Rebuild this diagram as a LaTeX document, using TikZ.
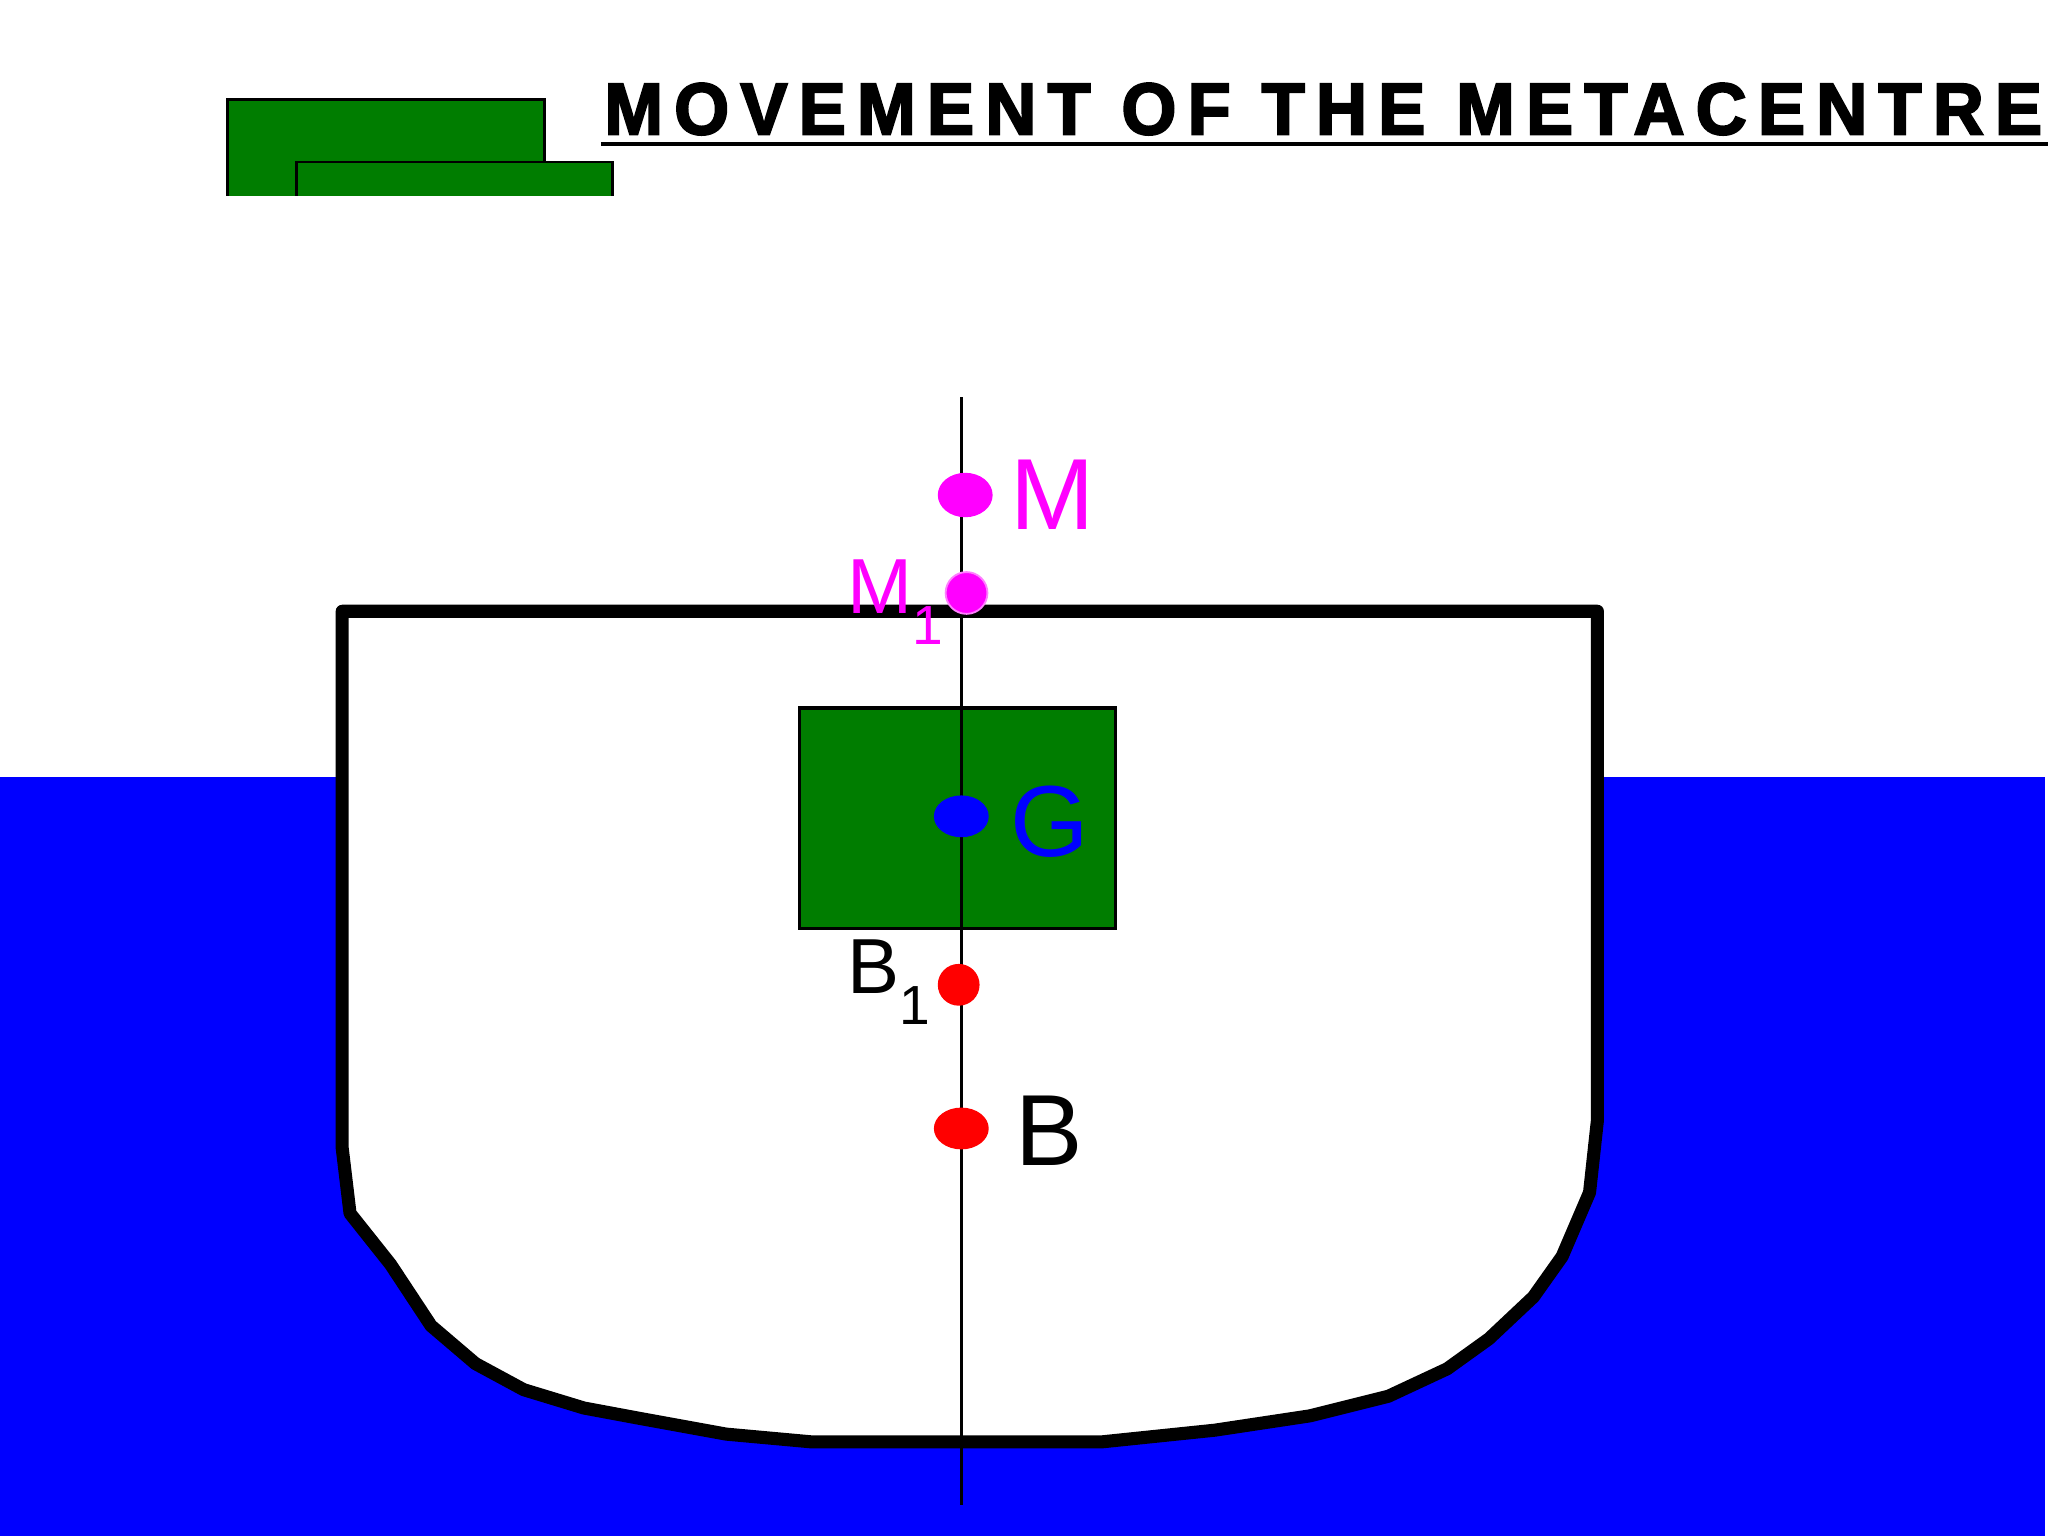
\documentclass[tikz,border=0pt]{standalone}
\usepackage{fontspec}
\setmainfont{Liberation Sans}
\newfontfamily\titlefont[LetterSpace=16,FakeBold=3]{Liberation Sans Bold}
\definecolor{dgreen}{RGB}{0,125,0}
\definecolor{mag}{RGB}{255,0,255}
\newcommand{\lowsub}[1]{\raisebox{-0.4em}{\fontsize{12pt}{12pt}\selectfont #1}}
\begin{document}
\begin{tikzpicture}[x=0.01cm,y=-0.01cm,
  lbl/.style={inner sep=0pt,font=\fontsize{22pt}{24pt}\selectfont},
  slbl/.style={inner sep=0pt,font=\fontsize{17pt}{19pt}\selectfont}]
\useasboundingbox (0,0) rectangle (1568,1176);
\fill[white] (0,0) rectangle (1568,1176);
% title
\node[anchor=south west,inner sep=0pt] (title) at (462,104) {\resizebox{11cm}{0.39cm}{\titlefont MOVEMENT OF THE METACENTRE}};
\draw[line width=0.03cm] (460,110) -- (1568,110);
% logo rects
\fill[dgreen] (174,76) rectangle (417,150);
\draw[line width=0.6pt] (174,150) -- (174,76) -- (417,76) -- (417,124);
\fill[dgreen] (227,124) rectangle (469,150);
\draw[line width=0.6pt] (227,150) -- (227,124) -- (469,124) -- (469,150);
% water
\fill[blue] (0,595) rectangle (1566,1176);
% hull
\draw[fill=white,line width=0.1cm,line join=round]
 (262,468) -- (1223,468) -- (1223,858) -- (1217,913) -- (1196,962) -- (1174,993) -- (1140,1025) -- (1108,1048) -- (1063,1069) -- (1003,1084) -- (930,1095) -- (843,1104) -- (622,1104) -- (556,1098) -- (490,1086) -- (447,1078) -- (401,1064) -- (364,1044) -- (330,1015) -- (299,968) -- (268,929) -- (262,879) -- cycle;
% green block
\draw[fill=dgreen,line width=0.7pt] (612,542) rectangle (854,711);
% centre line
\coordinate (top) at (736,304);
\coordinate (bot) at (736,1152);
\draw[line width=0.6pt] (top) -- (bot);
% points
\fill[mag] (739,379) ellipse (21 and 17);
\node[lbl,text=mag] (M) at (806,379) {M};
\draw[fill=mag,draw=mag!50] (740,454) circle (16);
\node[slbl,text=mag,anchor=west] (M1) at (648,461) {M\lowsub{1}};
\fill[blue] (736,625) ellipse (21 and 16);
\node[lbl,text=blue] (G) at (804,629) {G};
\fill[red] (734,754) circle (16);
\node[slbl,anchor=west] (B1) at (648,752) {B\lowsub{1}};
\fill[red] (736,864) ellipse (21 and 16);
\node[lbl] (B) at (803,866) {B};
\end{tikzpicture}
\end{document}
